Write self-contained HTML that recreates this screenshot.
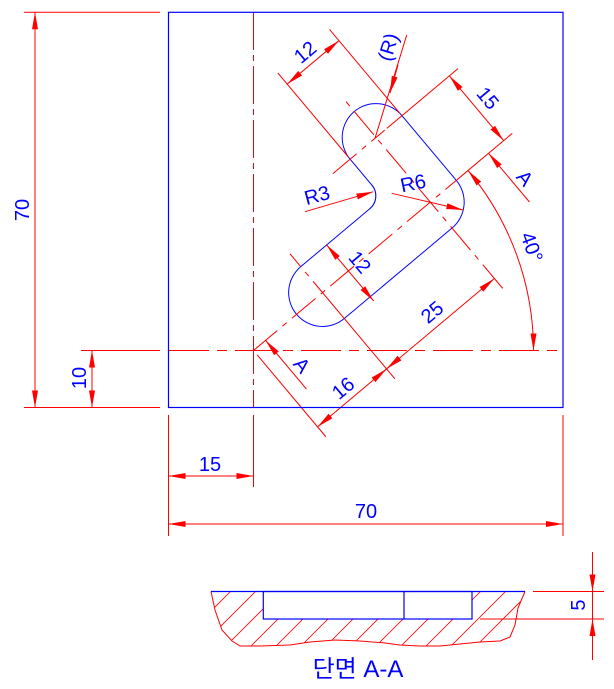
<!DOCTYPE html>
<html><head><meta charset="utf-8"><style>
html,body{margin:0;padding:0;background:#fff;}
svg{display:block;}
text{font-family:"Liberation Sans","Noto Sans CJK KR",sans-serif;fill:#0000ff;}
</style></head><body>
<svg width="614" height="689" viewBox="0 0 614 689" xmlns="http://www.w3.org/2000/svg">
<defs>
<marker id="m" viewBox="0 0 17 7" refX="17" refY="3.5" markerWidth="17" markerHeight="7" markerUnits="userSpaceOnUse" orient="auto-start-reverse"><path d="M0,0.5 L17,3.5 L0,6.5 z" fill="#ff0000"/></marker>
<marker id="ml" viewBox="0 0 17 7" refX="17" refY="3.5" markerWidth="3.02" markerHeight="1.24" markerUnits="userSpaceOnUse" orient="auto-start-reverse"><path d="M0,0.5 L17,3.5 L0,6.5 z" fill="#ff0000"/></marker>
<clipPath id="hc"><path clip-rule="evenodd" d="M211,591.5 L525,591.5 L518,608 L515,625 L510,637 L500,641 L480,642 L460,644 L440,646 L420,646 L400,645 L385,643 L360,641 L335,640 L310,642 L290,645 L260,646 L240,646 L232,641 L222,630 L215,610 Z M263.3,591.5 L472,591.5 L472,619 L263.3,619 Z"/></clipPath>
</defs>

<!-- slot (local coords) -->
<g transform="translate(253.5 350.5) rotate(-40) scale(5.63 -5.63)" fill="none">
  <path d="M16,0 L41,0 L41,15" stroke="#0000ff" stroke-width="12.2" stroke-linecap="round" stroke-linejoin="round"/>
  <path d="M16,0 L41,0 L41,15" stroke="#ffffff" stroke-width="11.85" stroke-linecap="round" stroke-linejoin="round"/>
  <path d="M35.3,5.7 L35.3,9 L35,9 A3,3 0 0 0 32,6 L32,5.7 Z" fill="#ffffff" stroke="none"/>
  <path d="M35,9 A3,3 0 0 0 32,6" stroke="#0000ff" stroke-width="0.2"/>
  <g stroke="#ff0000" stroke-width="0.18">
    <path d="M0,0 L50,0" stroke-dasharray="5.5 1.2 1 1.2"/>
    <path d="M50,0 L60,0"/>
    <path d="M41,-20 L41,24" stroke-dasharray="5.5 1.2 1 1.2"/>
    <path d="M31,15 L43,15" stroke-dasharray="5.5 1.2 1 1.2"/>
    <path d="M43.5,15 L60,15"/>
    <path d="M16,9 L16,-20" stroke-dasharray="3 1.2 1 1.2 30"/>
    <path d="M35,15.5 L35,35"/>
    <path d="M47,15.5 L47,35"/>
    <path d="M35,32.4 L47,32.4" marker-start="url(#ml)" marker-end="url(#ml)"/>
    <path d="M58,0 L58,15" marker-start="url(#ml)" marker-end="url(#ml)"/>
    <path d="M54.5,-11.3 L54.5,0" marker-end="url(#ml)"/>
    <path d="M2.8,-11.3 L2.8,0" marker-end="url(#ml)"/>
    <path d="M0,-1 L0,-20"/>
    <path d="M0,-17.7 L41,-17.7" marker-start="url(#ml)" marker-end="url(#ml)"/>
    <path d="M19,-17.7 L16,-17.7" marker-end="url(#ml)"/>
    <path d="M13,-17.7 L16,-17.7" marker-end="url(#ml)"/>
    <path d="M22,-7 L22,6" marker-start="url(#ml)" marker-end="url(#ml)"/>
  </g>
</g>

<g fill="none" stroke="#ff0000" stroke-width="1">
  <path d="M253.5,12 L253.5,407" stroke-dasharray="38 5 6 5"/>
  <path d="M253.5,415 L253.5,487"/>
  <path d="M169,350.5 L563,350.5" stroke-dasharray="40 8 10 8"/>
  <path d="M24,12.3 L160,12.3"/>
  <path d="M24,407.5 L160,407.5"/>
  <path d="M81,350.5 L160,350.5"/>
  <path d="M35,12.3 L35,407.5" marker-start="url(#m)" marker-end="url(#m)"/>
  <path d="M92,350.5 L92,407.5" marker-start="url(#m)" marker-end="url(#m)"/>
  <path d="M168.5,415 L168.5,536"/>
  <path d="M563,415 L563,536"/>
  <path d="M168.5,476 L253.5,476" marker-start="url(#m)" marker-end="url(#m)"/>
  <path d="M168.5,524 L563,524" marker-start="url(#m)" marker-end="url(#m)"/>
  <path d="M305,211.7 L373.3,191.7" marker-end="url(#m)"/>
  <path d="M391.7,193.3 L463.3,210" marker-end="url(#m)"/>
  <path d="M406.7,35 L375,138.3"/>
  <path d="M398,65 L390,93" marker-end="url(#m)"/>
  <path d="M468,170.5 A280,280 0 0 1 533.5,350.5" marker-start="url(#m)" marker-end="url(#m)"/>
  <path d="M533,591.5 L604,591.5"/>
  <path d="M480,619 L604,619"/>
  <path d="M592.5,552 L592.5,660"/>
  <path d="M592.5,572 L592.5,591.5" marker-end="url(#m)"/>
  <path d="M592.5,638 L592.5,619" marker-end="url(#m)"/>
  <path d="M211,591.5 L215,610 L222,630 L232,641 L240,646 L260,646 L290,645 L310,642 L335,640 L360,641 L385,643 L400,645 L420,646 L440,646 L460,644 L480,642 L500,641 L510,637 L515,625 L518,608 L525,591.5"/>
  <g clip-path="url(#hc)" stroke-width="0.8">
    <path d="M172,650 L231,591 M197,650 L256,591 M222,650 L281,591 M247,650 L306,591 M272,650 L331,591 M297,650 L356,591 M322,650 L381,591 M347,650 L406,591 M372,650 L431,591 M397,650 L456,591 M422,650 L481,591 M447,650 L506,591 M472,650 L531,591 M497,650 L556,591"/>
  </g>
</g>

<g fill="none" stroke="#0000ff" stroke-width="1.2">
  <rect x="168.5" y="12.3" width="394.5" height="395.2"/>
  <path d="M211,591.5 L525,591.5"/>
  <rect x="263.3" y="591.5" width="208.7" height="27.5"/>
  <path d="M404,591.5 L404,619"/>
</g>

<g font-size="20">
  <text x="0" y="0" text-anchor="middle" transform="translate(29,210) rotate(-90)">70</text>
  <text x="0" y="0" text-anchor="middle" transform="translate(86,378) rotate(-90)">10</text>
  <text x="210" y="471" text-anchor="middle">15</text>
  <text x="366" y="518" text-anchor="middle">70</text>
  <text x="0" y="0" text-anchor="middle" transform="translate(585,605) rotate(-90)">5</text>
  <text x="0" y="7" text-anchor="middle" transform="translate(305,52) rotate(-40)">12</text>
  <text x="0" y="7" text-anchor="middle" transform="translate(388,47) rotate(-73)">(R)</text>
  <text x="0" y="7" text-anchor="middle" transform="translate(488,98) rotate(50)">15</text>
  <text x="0" y="7" text-anchor="middle" transform="translate(525,178) rotate(50)">A</text>
  <text x="0" y="7" text-anchor="middle" transform="translate(413,183) rotate(-12)">R6</text>
  <text x="0" y="7" text-anchor="middle" transform="translate(317,195) rotate(-15)">R3</text>
  <text x="0" y="7" text-anchor="middle" transform="translate(360,262) rotate(50)">12</text>
  <text x="0" y="7" text-anchor="middle" transform="translate(532,247) rotate(70)">40°</text>
  <text x="0" y="7" text-anchor="middle" transform="translate(432,312) rotate(-40)">25</text>
  <text x="0" y="7" text-anchor="middle" transform="translate(343,388) rotate(-40)">16</text>
  <text x="0" y="7" text-anchor="middle" transform="translate(302,365) rotate(50)">A</text>
  <text x="358" y="677" text-anchor="middle" font-size="24">단면 A-A</text>
</g>
</svg>
</body></html>
